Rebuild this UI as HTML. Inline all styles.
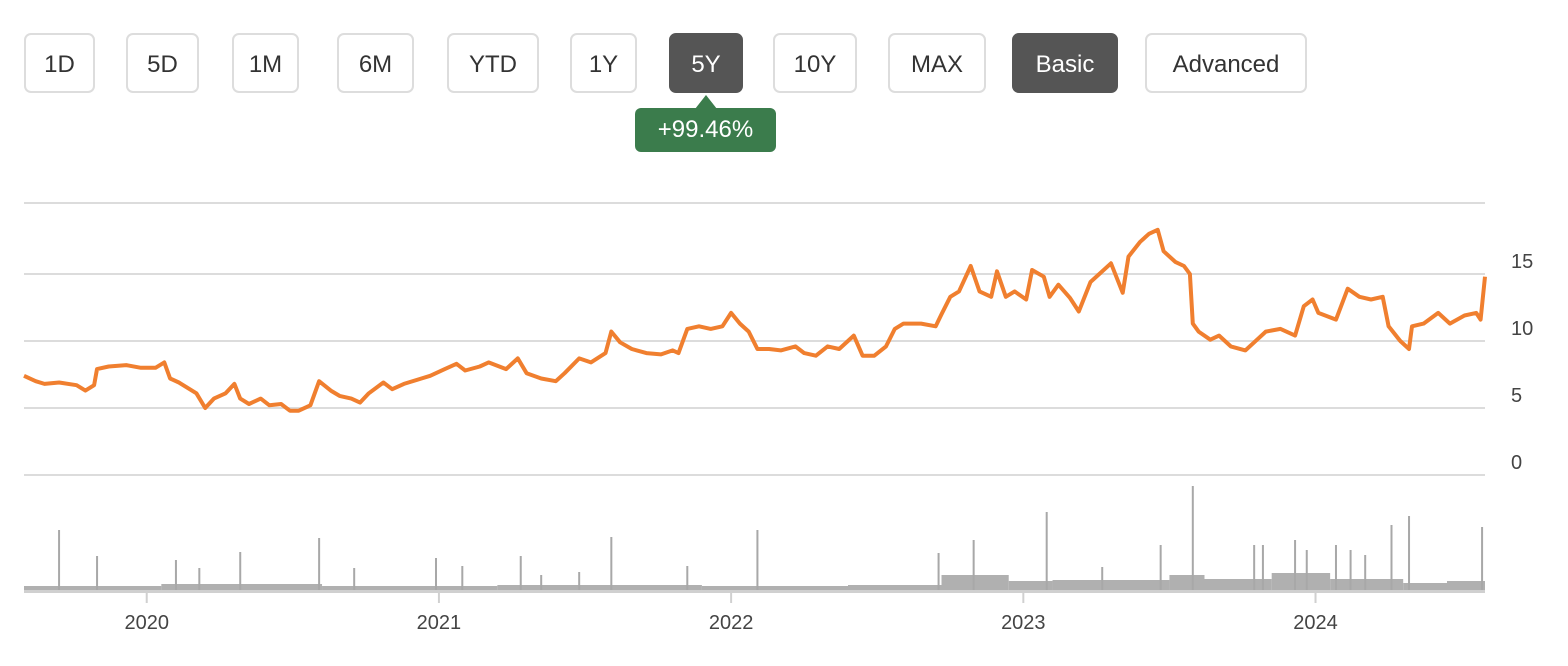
<!DOCTYPE html>
<html><head><meta charset="utf-8"><style>
body{margin:0;background:#fff;font-family:"Liberation Sans",sans-serif;}
#wrap{position:relative;width:1568px;height:666px;overflow:hidden;}
.btn{position:absolute;top:33px;height:60px;box-sizing:border-box;border:2px solid #ddd;border-radius:7px;font-size:24px;color:#333;display:flex;align-items:center;justify-content:center;background:#fff;padding-top:3px;}
.btn.on{background:#555;color:#fff;border-color:#555;}
</style></head><body>
<div id="wrap">
<div class="btn" style="left:24px;width:71px">1D</div>
<div class="btn" style="left:126px;width:73px">5D</div>
<div class="btn" style="left:232px;width:67px">1M</div>
<div class="btn" style="left:337px;width:77px">6M</div>
<div class="btn" style="left:447px;width:92px">YTD</div>
<div class="btn" style="left:570px;width:67px">1Y</div>
<div class="btn on" style="left:669px;width:74px">5Y</div>
<div class="btn" style="left:773px;width:84px">10Y</div>
<div class="btn" style="left:888px;width:98px">MAX</div>
<div class="btn on" style="left:1012px;width:106px">Basic</div>
<div class="btn" style="left:1145px;width:162px">Advanced</div>
<div style="position:absolute;left:635px;top:108px;width:141px;height:44px;background:#3b7c4c;border-radius:6px;color:#fff;font-size:24px;display:flex;align-items:center;justify-content:center;">+99.46%</div>
<div style="position:absolute;left:695px;top:95px;width:0;height:0;border-left:11px solid transparent;border-right:11px solid transparent;border-bottom:14px solid #3b7c4c;"></div>
<svg id="chart" width="1568" height="666" style="position:absolute;left:0;top:0"></svg>
</div>
<script>
const priceDates=[2019.58,2019.62,2019.65,2019.70,2019.76,2019.79,2019.82,2019.83,2019.87,2019.93,2019.98,2020.03,2020.06,2020.08,2020.11,2020.17,2020.20,2020.23,2020.27,2020.30,2020.32,2020.35,2020.39,2020.42,2020.46,2020.49,2020.52,2020.56,2020.59,2020.63,2020.66,2020.70,2020.73,2020.76,2020.81,2020.84,2020.88,2020.94,2020.97,2021.02,2021.06,2021.09,2021.14,2021.17,2021.23,2021.27,2021.30,2021.35,2021.40,2021.43,2021.48,2021.52,2021.57,2021.59,2021.62,2021.66,2021.71,2021.76,2021.80,2021.82,2021.85,2021.89,2021.93,2021.97,2022.00,2022.03,2022.06,2022.09,2022.13,2022.17,2022.22,2022.25,2022.29,2022.33,2022.37,2022.42,2022.45,2022.49,2022.53,2022.56,2022.59,2022.65,2022.70,2022.72,2022.75,2022.78,2022.82,2022.85,2022.89,2022.91,2022.94,2022.97,2023.01,2023.03,2023.07,2023.09,2023.12,2023.16,2023.19,2023.23,2023.26,2023.30,2023.34,2023.36,2023.40,2023.43,2023.46,2023.48,2023.52,2023.55,2023.57,2023.58,2023.60,2023.64,2023.67,2023.71,2023.76,2023.79,2023.83,2023.88,2023.93,2023.96,2023.99,2024.01,2024.07,2024.11,2024.15,2024.19,2024.23,2024.25,2024.29,2024.32,2024.33,2024.37,2024.42,2024.46,2024.51,2024.55,2024.565,2024.58];
const priceValues=[7.4,7.0,6.8,6.9,6.7,6.3,6.7,7.9,8.1,8.2,8.0,8.0,8.4,7.2,6.9,6.1,5.0,5.7,6.1,6.8,5.7,5.3,5.7,5.2,5.3,4.8,4.8,5.2,7.0,6.3,5.9,5.7,5.4,6.1,6.9,6.4,6.8,7.2,7.4,7.9,8.3,7.8,8.1,8.4,7.9,8.7,7.6,7.2,7.0,7.6,8.7,8.4,9.1,10.7,9.9,9.4,9.1,9.0,9.3,9.1,10.9,11.1,10.9,11.1,12.1,11.3,10.7,9.4,9.4,9.3,9.6,9.1,8.9,9.6,9.4,10.4,8.9,8.9,9.6,10.9,11.3,11.3,11.1,12.0,13.3,13.7,15.6,13.7,13.3,15.2,13.3,13.7,13.1,15.3,14.8,13.3,14.2,13.2,12.2,14.4,15.0,15.8,13.6,16.3,17.4,18.0,18.3,16.7,15.9,15.6,15.0,11.3,10.7,10.1,10.4,9.6,9.3,9.9,10.7,10.9,10.4,12.6,13.1,12.1,11.6,13.9,13.3,13.1,13.3,11.1,10.0,9.4,11.1,11.3,12.1,11.3,11.9,12.1,11.6,14.8];
const yTicks=[0,5,10,15,20.3];
const yTickLabels=["0","5","10","15",""];
const xTicks=[2020,2021,2022,2023,2024];
const xTickLabels=["2020","2021","2022","2023","2024"];
const spikeDates=[2019.70,2019.83,2020.10,2020.18,2020.32,2020.59,2020.71,2020.99,2021.08,2021.28,2021.35,2021.48,2021.59,2021.85,2022.09,2022.71,2022.83,2023.08,2023.27,2023.47,2023.58,2023.79,2023.82,2023.93,2023.97,2024.07,2024.12,2024.17,2024.26,2024.32,2024.57];
const spikeVolumes=[61,35,31,23,39,53,23,33,25,35,16,19,54,25,61,38,51,79,24,46,105,46,46,51,41,46,41,36,66,75,64];
const baseStart=[2019.58,2020.05,2020.60,2021.20,2021.90,2022.40,2022.72,2022.95,2023.10,2023.50,2023.62,2023.85,2024.05,2024.30,2024.45];
const baseEnd=[2020.05,2020.60,2021.20,2021.90,2022.40,2022.72,2022.95,2023.10,2023.50,2023.62,2023.85,2024.05,2024.30,2024.45,2024.58];
const baseVolumes=[5,7,5,6,5,6,16,10,11,16,12,18,12,8,10];

const NS="http://www.w3.org/2000/svg";
const svg=document.getElementById('chart');
const X0=24,X1=1485,T0=2019.58,T1=2024.58;
const xs=t=>X0+(t-T0)/(T1-T0)*(X1-X0);
const ys=v=>475-v*(475-341)/10;
const vs=v=>591-v;
function el(tag,attrs){const e=document.createElementNS(NS,tag);for(const k in attrs)e.setAttribute(k,attrs[k]);svg.appendChild(e);return e;}
yTicks.forEach((v,i)=>{
  const g=el('line',{x1:X0,x2:X1,y1:ys(v),y2:ys(v),stroke:'#dcdcdc','stroke-width':2});
  
  
  if(yTickLabels[i]){
    const t=el('text',{x:1511,y:ys(v)-6,'font-size':20,fill:'#444','font-family':'Liberation Sans, sans-serif'});
    t.textContent=yTickLabels[i];
    
    
  }
});
baseStart.forEach((s,i)=>{
  const r=el('rect',{x:xs(s),y:vs(baseVolumes[i]),width:xs(baseEnd[i])-xs(s),height:baseVolumes[i],fill:'#b0b0b0'});
  
  
});
spikeDates.forEach((d,i)=>{
  const r=el('rect',{x:xs(d)-1,y:vs(spikeVolumes[i]),width:2,height:spikeVolumes[i],fill:'#a8a8a8'});
  
  
});
const ax=el('line',{x1:X0,x2:X1,y1:591.5,y2:591.5,stroke:'#d0d0d0','stroke-width':3});


xTicks.forEach((t,i)=>{
  const l=el('line',{x1:xs(t),x2:xs(t),y1:592,y2:603,stroke:'#d0d0d0','stroke-width':2});
  
  
  const tx=el('text',{x:xs(t),y:629,'font-size':20,fill:'#444','text-anchor':'middle','font-family':'Liberation Sans, sans-serif'});
  tx.textContent=xTickLabels[i];
  
  
});
const p=el('polyline',{points:priceDates.map((d,i)=>xs(d).toFixed(1)+','+ys(priceValues[i]).toFixed(1)).join(' '),fill:'none',stroke:'#f07f2f','stroke-width':4,'stroke-linejoin':'round'});


</script>
</body></html>
